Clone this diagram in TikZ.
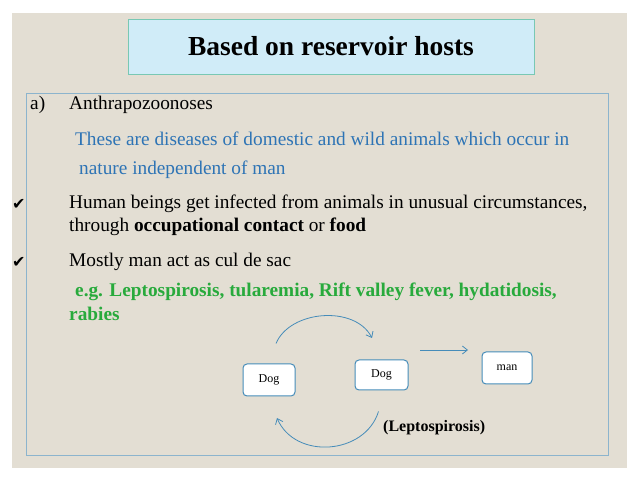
\documentclass[tikz,border=0pt]{standalone}
\usepackage{fontspec}
\setmainfont{Liberation Serif}
\newfontfamily\symf{DejaVu Sans}
\usetikzlibrary{arrows.meta}
\definecolor{beige}{RGB}{227,222,211}
\definecolor{titlefill}{RGB}{208,236,248}
\definecolor{titleedge}{RGB}{120,200,180}
\definecolor{boxedge}{RGB}{140,180,205}
\definecolor{bluetxt}{RGB}{46,116,181}
\definecolor{greentxt}{RGB}{40,170,60}
\definecolor{arr}{RGB}{70,140,185}
\tikzset{
 txt/.style={anchor=west,inner sep=0pt,font=\fontsize{19.3}{22}\selectfont},
 gtxt/.style={txt,text=greentxt,font=\bfseries\fontsize{19.3}{22}\selectfont},
 chk/.style={anchor=west,inner sep=0pt,font=\symf\fontsize{16}{20}\selectfont},
 animal/.style={draw=arr,line width=1pt,rounded corners=4pt,fill=white,font=\fontsize{12}{14}\selectfont,inner sep=0pt},
 flow/.style={draw=arr,line width=0.8pt,-{Straight Barb[length=5pt,width=8pt]}}
}
\begin{document}
\begin{tikzpicture}[x=1pt,y=-1pt]
\useasboundingbox (0,0) rectangle (638,478);
\fill[white] (0,0) rectangle (638,478);
\fill[beige] (12,13) rectangle (627,468);
\node[draw=titleedge,fill=titlefill,line width=0.8pt,minimum width=406pt,minimum height=55pt,font=\bfseries\fontsize{27.5}{32}\selectfont] (title) at (331,46.5) {Based on reservoir hosts};
\draw[boxedge,line width=1pt] (26,94) rectangle (608,456);
\node[txt] (a) at (30,105) {a)};
\node[txt] (a1) at (69,105) {Anthrapozoonoses};
\node[txt,text=bluetxt] (b1) at (75,139) {These are diseases of domestic and wild animals which occur in};
\node[txt,text=bluetxt] (b2) at (79,170) {nature independent of man};
\node[chk] (c0) at (12,204) {✔};
\node[txt] (c1) at (69,204) {Human beings get infected from animals in unusual circumstances,};
\node[txt] (c2) at (69,227) {through \textbf{occupational contact} or \textbf{food}};
\node[chk] (d0) at (12,262) {✔};
\node[txt] (d1) at (69,262) {Mostly man act as cul de sac};
\node[gtxt] (e1) at (75,292) {e.g. Leptospirosis, tularemia, Rift valley fever, hydatidosis,};
\node[gtxt] (e2) at (69,314) {rabies};
\node[animal,minimum width=52pt,minimum height=32pt] (dog1) at (269,380) {Dog};
\node[animal,minimum width=53pt,minimum height=30pt] (dog2) at (381.5,375) {Dog};
\node[animal,minimum width=50pt,minimum height=32pt] (man) at (507,368) {man};
\coordinate (s1) at (420,350); \coordinate (s2) at (468,350);
\draw[flow] (s1) -- (s2);
\draw[flow] (dog1.north) ++(7,-20) .. controls (290,310) and (355,305) .. (372,338);
\draw[flow] (dog2.south) ++(-3,21) .. controls (365,455) and (295,460) .. (277,418);
\node[anchor=west,inner sep=0pt,font=\bfseries\fontsize{16}{19}\selectfont] (lep) at (383,428) {(Leptospirosis)};
\end{tikzpicture}
\end{document}
